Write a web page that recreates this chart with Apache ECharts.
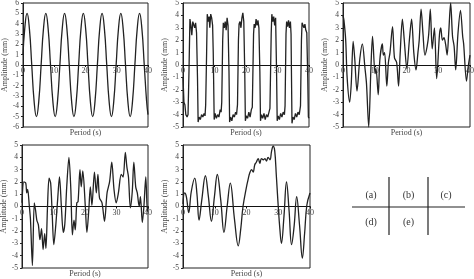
<!DOCTYPE html>
<html>
<head>
<meta charset="utf-8">
<title>Amplitude</title>
<style>
  html, body { margin: 0; padding: 0; background: #fff; }
  #main { width: 474px; height: 279px; }
</style>
</head>
<body>
<div id="main"></div>
<script src="https://cdn.jsdelivr.net/npm/echarts@6/dist/echarts.min.js"></script>
<script>
// (a) regular wave
var timeA = [0, 0.55, 1.3, 2.05, 2.8, 3.55, 4.3, 5.05, 5.8, 6.55, 7.3, 8.05, 8.8, 9.55, 10.3, 11.05, 11.8, 12.55, 13.3, 14.05,
    14.8, 15.55, 16.3, 17.05, 17.8, 18.55, 19.3, 20.05, 20.8, 21.55, 22.3, 23.05, 23.8, 24.55, 25.3, 26.05, 26.8, 27.55, 28.3, 29.05,
    29.8, 30.55, 31.3, 32.05, 32.8, 33.55, 34.3, 35.05, 35.8, 36.55, 37.3, 38.05, 38.8, 39.55, 40];
var ampA = [1.0, 3.5, 5, 3.5, 0, -3.5, -5, -3.5, 0, 3.5, 5, 3.5, 0, -3.5, -5, -3.5, 0, 3.5, 5, 3.5,
    0, -3.5, -5, -3.5, 0, 3.5, 5, 3.5, 0, -3.5, -5, -3.5, 0, 3.5, 5, 3.5, 0, -3.5, -5, -3.5,
    0, 3.5, 5, 3.5, 0, -3.5, -5, -3.5, 0, 3.5, 5, 3.5, 0, -3.5, -4.8];

// (b)
var timeB = [0, 0.3, 0.6, 0.9, 1.3, 1.6, 1.9, 2.2, 2.5, 2.8, 3.1, 3.4, 3.7, 4.0, 4.3, 4.6, 4.8, 5.1, 5.5, 5.9,
    6.3, 6.7, 7.0, 7.2, 7.5, 7.7, 8.0, 8.3, 8.5, 8.8, 9.1, 9.4, 9.6, 9.9, 10.2, 10.6, 11.0, 11.4, 11.8, 12.1,
    12.3, 12.6, 12.8, 13.1, 13.4, 13.7, 14.0, 14.3, 14.6, 14.8, 15.1, 15.5, 15.9, 16.3, 16.7, 17.0, 17.3, 17.6, 17.8, 18.1,
    18.4, 18.7, 19.0, 19.3, 19.6, 19.8, 20.1, 20.5, 20.9, 21.3, 21.7, 22.0, 22.4, 22.6, 22.9, 23.2, 23.5, 23.8, 24.1, 24.4,
    24.6, 24.9, 25.3, 25.7, 26.1, 26.5, 26.9, 27.3, 27.6, 28.0, 28.2, 28.5, 28.8, 29.1, 29.4, 29.7, 29.9, 30.2, 30.6, 31.0,
    31.4, 31.8, 32.2, 32.4, 32.7, 32.9, 33.2, 33.5, 33.8, 34.1, 34.3, 34.6, 34.9, 35.3, 35.7, 36.1, 36.5, 36.9, 37.3, 37.6,
    37.8, 38.1, 38.4, 38.7, 39.0, 39.3, 39.6, 39.8, 40.0];
var ampB = [-1.0, -3.0, -3.2, -4.0, -4.2, -4.0, -0.5, 3.7, 3.2, 2.4, 3.5, 3.6, 3.0, 3.4, 2.6, -1.0, -4.6, -4.2, -4.4, -4.0,
    -4.2, -3.9, -4.1, -3.2, 1.0, 4.1, 3.5, 3.9, 3.0, 4.1, 3.8, 3.2, 1.0, -4.4, -3.9, -4.3, -4.0, -4.2, -3.6, -3.8,
    -3.0, 2.0, 3.4, 3.0, 3.5, 2.8, 3.8, 3.2, -0.5, -4.6, -4.2, -4.5, -4.0, -4.2, -3.8, -4.0, -3.2, 2.0, 3.3, 3.5,
    3.0, 3.8, 4.2, 3.5, -0.5, -4.5, -4.1, -4.3, -3.8, -4.2, -3.6, -3.4, 2.5, 3.3, 3.0, 3.7, 3.2, 3.6, 3.0, -0.5,
    -4.5, -4.0, -4.3, -3.9, -4.4, -4.0, -4.2, -3.8, -3.5, 2.5, 4.1, 3.5, 3.9, 3.2, 3.8, -0.5, -4.5, -4.1, -4.4, -3.9,
    -4.2, -3.8, -4.0, -3.3, 2.5, 3.5, 3.1, 3.6, 3.0, 3.5, 2.5, -4.7, -4.2, -4.4, -3.9, -4.2, -3.8, -4.0, -3.3, 2.0,
    3.4, 3.2, 3.0, 3.3, 2.8, 2.6, -1.0, -4.2, -4.3];

// (c)
var timeC = [0, 0.3, 0.85, 1.3, 2.1, 2.6, 3.2, 3.7, 4.4, 5.3, 6.1, 6.9, 7.4, 8.1, 8.8, 9.3, 10.1, 10.4, 11.1, 11.6,
    12.4, 12.7, 13.1, 13.8, 14.3, 14.8, 15.6, 16.2, 16.9, 17.5, 18.0, 18.7, 19.3, 20.1, 20.9, 21.6, 22.3, 23.0, 23.6, 24.0,
    24.6, 25.2, 25.8, 26.5, 27.0, 27.5, 28.1, 28.8, 29.5, 30.4, 30.8, 31.3, 31.8, 32.3, 32.8, 33.3, 33.9, 34.5, 35.0, 35.5,
    36.2, 37.0, 37.7, 38.0, 38.9, 39.4, 40];
var ampC = [4.0, 3.6, 2.0, -1.0, -3.0, -1.5, 1.9, 0.5, -2.1, 0.5, 1.7, -0.2, -1.5, -5.0, -0.2, 2.3, -0.7, -0.3, -2.4, 0.4,
    1.7, 0.8, 1.0, -1.7, 0.2, 1.0, 3.1, 0.6, 0.2, -1.7, 0.9, 3.7, 2.0, -0.3, 2.0, 3.7, 1.0, -0.4, 1.0, 2.0,
    4.5, 2.5, 0.8, 1.5, 2.5, 4.5, 1.3, 3.0, -1.1, 2.5, 3.0, 2.0, 2.2, 1.7, 0.8, 2.6, 5.0, 2.3, 1.5, -0.4,
    2.5, 4.4, 2.3, 1.7, -1.3, -0.2, 0.8];

// (d)
var timeD = [0, 0.6, 1.2, 1.5, 1.8, 2.3, 2.7, 3.3, 3.9, 4.3, 4.7, 5.2, 5.7, 6.2, 6.7, 7.2, 7.6, 8.1, 8.6, 9.1,
    9.6, 10.1, 10.7, 11.3, 11.9, 12.5, 13.1, 13.6, 14.2, 14.9, 15.5, 16.0, 16.5, 16.9, 17.4, 17.8, 18.4, 18.8, 19.3, 20.1,
    20.6, 21.2, 21.7, 22.2, 23.0, 23.6, 24.1, 24.6, 25.4, 26.2, 27.0, 27.8, 28.5, 29.2, 29.9, 30.6, 31.5, 32.1, 32.8, 33.3,
    33.8, 34.4, 35.0, 35.5, 36.1, 36.6, 37.2, 37.6, 38.2, 38.7, 39.3, 39.8, 40];
var ampD = [0.3, 2.0, 1.9, 1.1, 1.4, 0.1, -1.1, -4.8, 0.3, -0.3, -1.1, -1.5, -2.7, -1.8, -3.5, -2.2, -3.4, 0.0, 2.3, 1.9,
    -0.7, -3.1, -1.6, 0.5, 2.4, 0.0, -2.1, -1.4, 1.6, 4.0, 1.4, -2.3, -1.1, -1.9, 0.3, 0.4, 3.0, 1.6, 2.9, 0.0,
    -2.1, -0.3, 1.6, 0.1, 2.8, 1.1, 2.6, 0.7, 0.3, -1.2, 1.1, 2.0, 3.6, 1.4, 0.3, 1.1, 2.6, 2.4, 4.4, 3.2,
    2.4, -0.1, 1.2, 3.6, 1.6, 1.1, 0.0, 0.8, -1.3, 0.0, 2.4, -0.4, 0.0];

// (e)
var timeE = [0, 0.5, 1.05, 1.8, 2.6, 3.7, 4.4, 5.05, 5.9, 7.05, 8.0, 8.95, 9.9, 10.8, 11.9, 12.9, 13.9, 14.9, 16.2, 17.4,
    18.2, 18.9, 20.0, 20.6, 21.0, 21.6, 22.1, 22.6, 23.1, 23.7, 24.2, 24.7, 25.3, 25.8, 26.3, 26.8, 27.4, 27.9, 28.4, 28.9,
    29.4, 30.0, 30.5, 31.0, 31.8, 32.6, 33.4, 34.2, 35.0, 35.8, 36.7, 37.6, 38.3, 39.0, 40];
var ampE = [0.2, 1.1, 0.8, -0.5, 1.2, 2.3, 1.0, -1.1, 0.5, 2.5, 0.8, -1.2, 0.8, 2.6, 0.5, -2.1, 0.0, 1.9, -1.0, -3.2,
    -1.8, 0.0, 1.6, 2.3, 2.7, 3.0, 2.8, 3.4, 3.6, 3.9, 3.5, 3.9, 3.8, 3.9, 3.7, 4.0, 3.8, 4.5, 4.9, 4.5,
    2.5, 0.0, -1.8, -3.0, -0.8, 2.0, -0.3, -3.1, -1.6, 0.8, -1.5, -4.2, -2.2, 0.1, 1.1];

var panelLabels = ['(a)', '(b)', '(c)', '(d)', '(e)'];
var xName = 'Period (s)';
var yName = 'Amplitude (mm)';

function pairs(t, v) {
    return t.map(function (x, i) { return [x, v[i]]; });
}

var font = 'Liberation Serif';
var txtColor = '#444';
var lineColor = '#222';

var grids = [
    {left: 23, top: 3, width: 125, height: 124},
    {left: 183, top: 3, width: 126, height: 124},
    {left: 343, top: 3, width: 127, height: 124},
    {left: 22, top: 145, width: 126, height: 123},
    {left: 183, top: 145, width: 127, height: 123}
];
var yRange = [[-6, 6], [-5, 5], [-5, 5], [-5, 5], [-5, 5]];
var seriesData = [pairs(timeA, ampA), pairs(timeB, ampB), pairs(timeC, ampC), pairs(timeD, ampD), pairs(timeE, ampE)];
var smoothing = [0.5, 0, 0.3, 0.3, 0.4];

var myChart = echarts.init(document.getElementById('main'));

function label(i, x, y) {
    return {type: 'text', x: x, y: y, style: {text: panelLabels[i], font: '10px "Liberation Serif"',
        fill: '#333', align: 'center', verticalAlign: 'middle'}};
}

var option = {
    animation: false,
    grid: grids.map(function (g) {
        return {left: g.left, top: g.top, width: g.width, height: g.height, outerBoundsMode: 'none',
            show: true, borderColor: '#222', borderWidth: 1, backgroundColor: 'transparent'};
    }),
    // x axis is lifted to the middle of the box (value 0, ranges are symmetric)
    xAxis: grids.map(function (g, i) {
        return {
            type: 'value', gridIndex: i, min: 0, max: 40, interval: 10,
            position: 'bottom', offset: -g.height / 2,
            name: xName, nameLocation: 'middle', nameGap: g.height / 2 + 2, nameMoveOverlap: false,
            nameTextStyle: {fontFamily: font, fontSize: 8, color: txtColor},
            axisLine: {onZero: false, lineStyle: {color: '#111', width: 1}},
            axisTick: {show: true, length: 2, lineStyle: {color: '#111'}},
            axisLabel: {fontFamily: font, fontSize: 8, color: txtColor, margin: 2},
            splitLine: {show: false}
        };
    }),
    yAxis: grids.map(function (g, i) {
        return {
            type: 'value', gridIndex: i, min: yRange[i][0], max: yRange[i][1], interval: 1,
            name: yName, nameLocation: 'middle', nameGap: 13, nameRotate: 90,
            nameTextStyle: {fontFamily: font, fontSize: 8, color: txtColor},
            axisLine: {show: true, onZero: false, lineStyle: {color: '#222'}},
            axisTick: {show: true, length: 2, lineStyle: {color: '#222'}},
            axisLabel: {fontFamily: font, fontSize: 7.5, color: txtColor, margin: 4},
            splitLine: {show: false}
        };
    }),
    series: seriesData.map(function (d, i) {
        return {
            type: 'line', xAxisIndex: i, yAxisIndex: i, data: d,
            showSymbol: false, smooth: smoothing[i],
            lineStyle: {color: lineColor, width: 1.3}
        };
    }),
    graphic: [
        {type: 'line', shape: {x1: 352, y1: 207, x2: 465, y2: 207}, style: {stroke: '#222', lineWidth: 1.2}},
        {type: 'line', shape: {x1: 389, y1: 177, x2: 389, y2: 235}, style: {stroke: '#222', lineWidth: 1.2}},
        {type: 'line', shape: {x1: 428, y1: 177, x2: 428, y2: 235}, style: {stroke: '#222', lineWidth: 1.2}},
        label(0, 371, 195), label(1, 408.5, 195), label(2, 446, 195),
        label(3, 371, 222), label(4, 408.5, 222)
    ]
};

myChart.setOption(option);
</script>
</body>
</html>
